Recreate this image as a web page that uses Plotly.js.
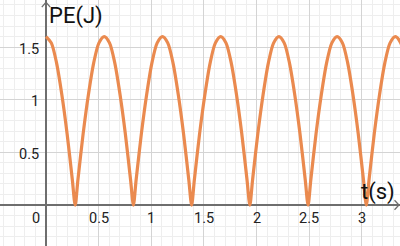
<!DOCTYPE html>
<html><head><meta charset="utf-8">
<script src="https://cdn.plot.ly/plotly-3.0.1.min.js"></script>
<style>html,body{margin:0;padding:0;background:#fff;}#c{width:400px;height:246px;}</style>
</head><body><div id="c"></div>
<script>
// time (s) and potential energy (J)
const t = [0,0.05,0.10,0.15,0.20,0.25,0.277,
  0.303,0.353,0.403,0.453,0.503,0.553,0.603,0.653,0.703,0.753,0.803,0.830,
  0.856,0.906,0.956,1.006,1.056,1.106,1.156,1.206,1.256,1.306,1.356,1.383,
  1.409,1.459,1.509,1.559,1.609,1.659,1.709,1.759,1.809,1.859,1.909,1.936,
  1.962,2.012,2.062,2.112,2.162,2.212,2.262,2.312,2.362,2.412,2.462,2.489,
  2.515,2.565,2.615,2.665,2.715,2.765,2.815,2.865,2.915,2.965,3.015,3.042,
  3.068,3.118,3.168,3.218,3.268,3.318,3.368,3.418];
const pe = [1.60,1.54,1.35,1.05,0.68,0.24,0,
  0.24,0.68,1.05,1.35,1.54,1.60,1.54,1.35,1.05,0.68,0.24,0,
  0.24,0.68,1.05,1.35,1.54,1.60,1.54,1.35,1.05,0.68,0.24,0,
  0.24,0.68,1.05,1.35,1.54,1.60,1.54,1.35,1.05,0.68,0.24,0,
  0.24,0.68,1.05,1.35,1.54,1.60,1.54,1.35,1.05,0.68,0.24,0,
  0.24,0.68,1.05,1.35,1.54,1.60,1.54,1.35,1.05,0.68,0.24,0,
  0.24,0.68,1.05,1.35,1.54,1.60,1.54,1.35];
const xTicks = [0.5,1,1.5,2,2.5,3];
const xTickText = ["0.5","1","1.5","2","2.5","3"];
const yTicks = [0.5,1,1.5];
const yTickText = ["0.5","1","1.5"];
const xTitle = "t(s)";
const yTitle = "PE(J)";

const fnt = {family:"Roboto, Arial, sans-serif", size:14.5, color:"#222"};
const ann = [];
xTicks.forEach((v,i)=>ann.push({x:v,y:0,xref:"x",yref:"y",text:xTickText[i],showarrow:false,
  xanchor:"center",yanchor:"top",yshift:-3,font:fnt}));
ann.push({x:0,y:0,xref:"x",yref:"y",text:"0",showarrow:false,xanchor:"right",yanchor:"top",xshift:-4,yshift:-3,font:fnt});
yTicks.forEach((v,i)=>ann.push({x:0,y:v,xref:"x",yref:"y",text:yTickText[i],showarrow:false,
  xanchor:"right",yanchor:"middle",xshift:-5,yshift:-2,font:fnt}));
ann.push({x:0,y:1.947,xref:"x",yref:"y",text:yTitle,showarrow:false,xanchor:"left",yanchor:"top",xshift:1,yshift:-1,
  font:{family:"Roboto, Arial, sans-serif",size:22,color:"#111"}});
ann.push({x:3.362,y:0,xref:"x",yref:"y",text:xTitle,showarrow:false,xanchor:"right",yanchor:"bottom",xshift:-3,yshift:-2,
  font:{family:"Roboto, Arial, sans-serif",size:22,color:"#111"}});

const layout = {
  width:400,height:246,margin:{l:0,r:0,t:0,b:0},
  paper_bgcolor:"#fff",plot_bgcolor:"#fff",showlegend:false,
  xaxis:{range:[-0.437,3.362],showticklabels:false,ticks:"",dtick:0.5,tick0:0,gridcolor:"#d4d4d4",gridwidth:1,
    minor:{dtick:0.1,tick0:0,gridcolor:"#eeeeee",gridwidth:1,showgrid:true},
    zeroline:true,zerolinecolor:"#6e6e6e",zerolinewidth:1.5,showline:false,fixedrange:true},
  yaxis:{range:[-0.389,1.947],showticklabels:false,ticks:"",dtick:0.5,tick0:0,gridcolor:"#d4d4d4",gridwidth:1,
    minor:{dtick:0.1,tick0:0,gridcolor:"#eeeeee",gridwidth:1,showgrid:true},
    zeroline:true,zerolinecolor:"#6e6e6e",zerolinewidth:1.5,showline:false,fixedrange:true},
  annotations:ann,
  shapes:[
    {type:"path",xref:"x",yref:"y",path:"M -0.04,1.88 L 0,1.925 L 0.04,1.88",line:{color:"#6e6e6e",width:1.3}},
    {type:"path",xref:"x",yref:"y",path:"M 3.31,0.045 L 3.352,0 L 3.31,-0.045",line:{color:"#6e6e6e",width:1.3}}
  ]
};
const data = [{x:t,y:pe,type:"scatter",mode:"lines",line:{color:"#EA8A4F",width:3.2,shape:"spline",smoothing:0.8},hoverinfo:"none"}];
Plotly.newPlot("c",data,layout,{staticPlot:true,displayModeBar:false});
</script></body></html>
